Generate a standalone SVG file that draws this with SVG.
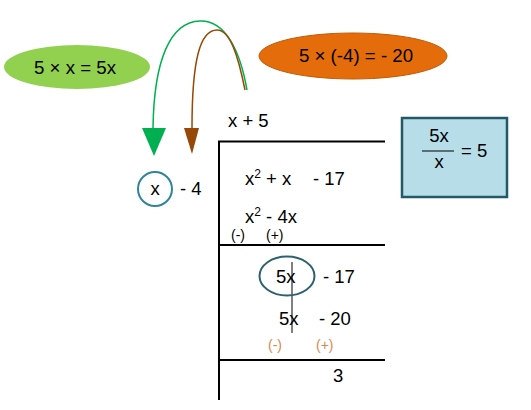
<svg xmlns="http://www.w3.org/2000/svg" width="531" height="410" viewBox="0 0 531 410">
<style>
text{font-family:"Liberation Sans",Arial,sans-serif;font-size:18.5px;fill:#000}
.big{font-size:18.67px}
.sm{font-size:14px}
.sup{font-size:12px}
.op{fill:#d9894f}
.ln{stroke:#000;stroke-width:2;fill:none}
</style>
<rect width="531" height="410" fill="#fff"/>
<g id="green-ellipse">
<ellipse cx="77" cy="67" rx="73" ry="22" fill="#92d050"/>
<text class="big" x="75" y="74" text-anchor="middle">5 × x = 5x</text>
</g>
<g id="orange-ellipse">
<ellipse cx="353" cy="56" rx="94" ry="23" fill="#e46c0a" stroke="#c05a08" stroke-width="1"/>
<text class="big" x="356" y="62" text-anchor="middle" fill="#111">5 × (-4) = - 20</text>
</g>
<g id="connectors">
<path d="M247,90 C240,50 225,20 200,21 C170,22 154,60 153,128" fill="none" stroke="#00b050" stroke-width="1.5"/>
<polygon points="142,128 166,128 154,156" fill="#00b050"/>
<path d="M245,90 C238,55 230,30 217,30 C200,30 192,60 192,128" fill="none" stroke="#974706" stroke-width="1.5"/>
<polygon points="184,128 199,128 192,154" fill="#974706"/>
</g>
<g id="division">
<line class="ln" x1="219" y1="141" x2="219" y2="400"/>
<line class="ln" x1="218" y1="141.5" x2="385" y2="141.5"/>
<line class="ln" x1="218" y1="245" x2="385" y2="245"/>
<line class="ln" x1="218" y1="360" x2="385" y2="360"/>
<text x="228" y="127">x + 5</text>
<text x="245" y="185">x<tspan class="sup" dy="-7">2</tspan><tspan dy="7"> + x</tspan></text>
<text x="313" y="185">- 17</text>
<text x="245" y="223">x<tspan class="sup" dy="-7">2</tspan><tspan dy="7"> - 4x</tspan></text>
<text class="sm" x="231" y="240">(-)</text>
<text class="sm" x="266" y="240">(+)</text>
<text x="276" y="283">5x</text>
<text x="323" y="283">- 17</text>
<text x="279" y="325">5x</text>
<text x="319" y="325">- 20</text>
<text class="sm op" x="268" y="350">(-)</text>
<text class="sm op" x="316" y="350">(+)</text>
<line x1="292" y1="262" x2="292" y2="333" stroke="#000" stroke-width="1"/>
<text x="333" y="382">3</text>
</g>
<g id="circle-x">
<circle cx="155" cy="189" r="17" fill="none" stroke="#31849b" stroke-width="2"/>
<text x="155" y="195" text-anchor="middle">x</text>
<text x="180" y="195">- 4</text>
</g>
<g id="ellipse-5x">
<ellipse cx="287" cy="276" rx="27.5" ry="19.5" fill="none" stroke="#2e6170" stroke-width="2"/>
</g>
<g id="ratio-box">
<rect x="402" y="118" width="105" height="79" fill="#b7dde8" stroke="#215968" stroke-width="2.5"/>
<text x="439" y="142" text-anchor="middle">5x</text>
<line x1="422" y1="151" x2="454" y2="151" stroke="#000" stroke-width="1"/>
<text x="439" y="168" text-anchor="middle">x</text>
<text x="461" y="157">= 5</text>
</g>
</svg>
